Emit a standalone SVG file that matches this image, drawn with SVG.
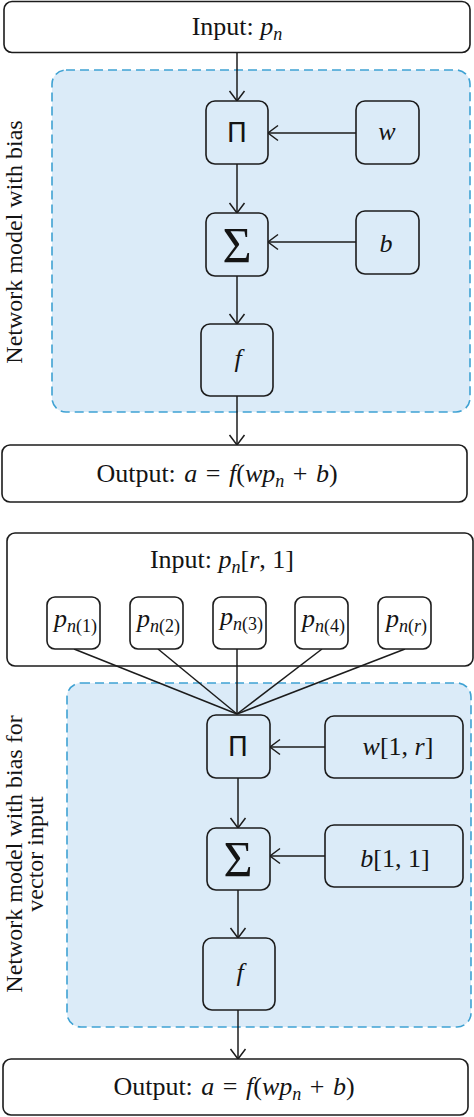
<svg xmlns="http://www.w3.org/2000/svg" width="474" height="1117" viewBox="0 0 474 1117">
<style>
.region{fill:#dbebf8;stroke:#3fa2d3;stroke-width:1.6;stroke-dasharray:9 5}
.box{fill:#dbebf8;stroke:#1c1c1c;stroke-width:1.6}
.outer{fill:#ffffff;stroke:#1c1c1c;stroke-width:1.6}
.white{fill:#ffffff}
.t{font-family:"Liberation Serif","Times New Roman",serif;font-size:24px;fill:#141414}
.big{font-size:26px}
.sub{font-size:18px}
.it{font-style:italic}
.c{text-anchor:middle}
.pi{font-family:"DejaVu Sans",sans-serif;font-size:27px;fill:#141414;text-anchor:middle}
.sig{font-family:"Liberation Serif",serif;font-size:50px;fill:#141414;text-anchor:middle}
.conn{stroke:#1c1c1c;stroke-width:1.5;fill:none}
</style>
<defs>
<marker id="arr" markerUnits="userSpaceOnUse" markerWidth="14" markerHeight="18" viewBox="0 0 14 18" refX="12" refY="9" orient="auto">
<path d="M2,1.5 L12,9 L2,16.5" fill="none" stroke="#1c1c1c" stroke-width="1.5"/>
</marker>
</defs>

<g id="region1"><rect class="region" x="52" y="70" width="418" height="342" rx="14"/></g>
<g id="region2"><rect class="region" x="67" y="683" width="404" height="344" rx="14"/></g>

<g id="label1"><text class="t c" transform="translate(22,242) rotate(-90)">Network model with bias</text></g>
<g id="label2">
<text class="t c" transform="translate(22,854) rotate(-90)">Network model with bias for</text>
<text class="t c" transform="translate(43,854) rotate(-90)">vector input</text>
</g>

<g id="input2">
<rect class="outer" x="7" y="533" width="466" height="133" rx="8"/>
<text class="t big c" x="222" y="568">Input: <tspan class="it">p</tspan><tspan class="it sub" dy="5">n</tspan><tspan dy="-5">[</tspan><tspan class="it">r</tspan>, 1]</text>
</g>

<g id="connectors">
<line class="conn" x1="237" y1="53" x2="237" y2="101" marker-end="url(#arr)"/>
<line class="conn" x1="356" y1="133" x2="268" y2="133" marker-end="url(#arr)"/>
<line class="conn" x1="237" y1="164" x2="237" y2="213" marker-end="url(#arr)"/>
<line class="conn" x1="356" y1="242" x2="268" y2="242" marker-end="url(#arr)"/>
<line class="conn" x1="237" y1="276" x2="237" y2="324" marker-end="url(#arr)"/>
<line class="conn" x1="237" y1="396" x2="237" y2="445" marker-end="url(#arr)"/>

<line class="conn" x1="74" y1="649" x2="237" y2="714"/>
<line class="conn" x1="158" y1="649" x2="237" y2="714"/>
<line class="conn" x1="237" y1="649" x2="237" y2="714"/>
<line class="conn" x1="322" y1="649" x2="237" y2="714"/>
<line class="conn" x1="405" y1="649" x2="237" y2="714"/>
<line class="conn" x1="325" y1="747" x2="270" y2="747" marker-end="url(#arr)"/>
<line class="conn" x1="238" y1="778" x2="238" y2="828" marker-end="url(#arr)"/>
<line class="conn" x1="325" y1="856" x2="270" y2="856" marker-end="url(#arr)"/>
<line class="conn" x1="238" y1="890" x2="238" y2="938" marker-end="url(#arr)"/>
<line class="conn" x1="238" y1="1010" x2="238" y2="1059" marker-end="url(#arr)"/>
</g>

<g id="input1">
<rect class="outer" x="4" y="1.5" width="466" height="51" rx="8"/>
<text class="t big c" x="237" y="35">Input: <tspan class="it">p</tspan><tspan class="it sub" dy="5">n</tspan></text>
</g>
<g id="prod1">
<rect class="box" x="206" y="101" width="62" height="63" rx="9"/>
<text class="pi" x="237" y="142">Π</text>
</g>
<g id="w1">
<rect class="box" x="356" y="101" width="63" height="63" rx="9"/>
<text class="t big it c" x="387" y="140">w</text>
</g>
<g id="sum1">
<rect class="box" x="206" y="213" width="62" height="63" rx="9"/>
<text class="sig" x="237" y="262">Σ</text>
</g>
<g id="b1">
<rect class="box" x="356" y="211" width="63" height="63" rx="9"/>
<text class="t big it c" x="386" y="252">b</text>
</g>
<g id="f1">
<rect class="box" x="201" y="324" width="72" height="72" rx="9"/>
<text class="t big it c" x="238" y="367">f</text>
</g>
<g id="output1">
<rect class="outer" x="2" y="445" width="465" height="57" rx="8"/>
<text class="t big c" x="217" y="482" word-spacing="2">Output: <tspan class="it">a</tspan> = <tspan class="it">f</tspan>(<tspan class="it">wp</tspan><tspan class="it sub" dy="5">n</tspan><tspan dy="-5"> + </tspan><tspan class="it">b</tspan>)</text>
</g>

<g id="pn1">
<rect class="box white" x="47" y="597" width="53" height="52" rx="8"/>
<text class="t big" x="54" y="627"><tspan class="it">p</tspan><tspan class="sub" dy="5"><tspan class="it">n</tspan>(1)</tspan></text>
</g>
<g id="pn2">
<rect class="box white" x="130" y="597" width="53" height="52" rx="8"/>
<text class="t big" x="137" y="627"><tspan class="it">p</tspan><tspan class="sub" dy="5"><tspan class="it">n</tspan>(2)</tspan></text>
</g>
<g id="pn3">
<rect class="box white" x="213" y="597" width="53" height="52" rx="8"/>
<text class="t big" x="220" y="625"><tspan class="it">p</tspan><tspan class="sub" dy="5"><tspan class="it">n</tspan>(3)</tspan></text>
</g>
<g id="pn4">
<rect class="box white" x="295" y="597" width="53" height="52" rx="8"/>
<text class="t big" x="302" y="627"><tspan class="it">p</tspan><tspan class="sub" dy="5"><tspan class="it">n</tspan>(4)</tspan></text>
</g>
<g id="pnr">
<rect class="box white" x="378" y="597" width="53" height="52" rx="8"/>
<text class="t big" x="386" y="627"><tspan class="it">p</tspan><tspan class="sub" dy="5"><tspan class="it">n</tspan>(<tspan class="it">r</tspan>)</tspan></text>
</g>
<g id="prod2">
<rect class="box" x="207" y="715" width="63" height="63" rx="9"/>
<text class="pi" x="238" y="756">Π</text>
</g>
<g id="w2">
<rect class="box" x="325" y="716" width="138" height="62" rx="9"/>
<text class="t big c" x="398" y="755"><tspan class="it">w</tspan>[1, <tspan class="it">r</tspan>]</text>
</g>
<g id="sum2">
<rect class="box" x="207" y="828" width="63" height="62" rx="9"/>
<text class="sig" x="238" y="876">Σ</text>
</g>
<g id="b2">
<rect class="box" x="325" y="825" width="138" height="62" rx="9"/>
<text class="t big c" x="395" y="867"><tspan class="it">b</tspan>[1, 1]</text>
</g>
<g id="f2">
<rect class="box" x="203" y="938" width="72" height="72" rx="9"/>
<text class="t big it c" x="240" y="981">f</text>
</g>
<g id="output2">
<rect class="outer" x="3" y="1059" width="465" height="56" rx="8"/>
<text class="t big c" x="234" y="1095" word-spacing="2">Output: <tspan class="it">a</tspan> = <tspan class="it">f</tspan>(<tspan class="it">wp</tspan><tspan class="it sub" dy="5">n</tspan><tspan dy="-5"> + </tspan><tspan class="it">b</tspan>)</text>
</g>
</svg>
